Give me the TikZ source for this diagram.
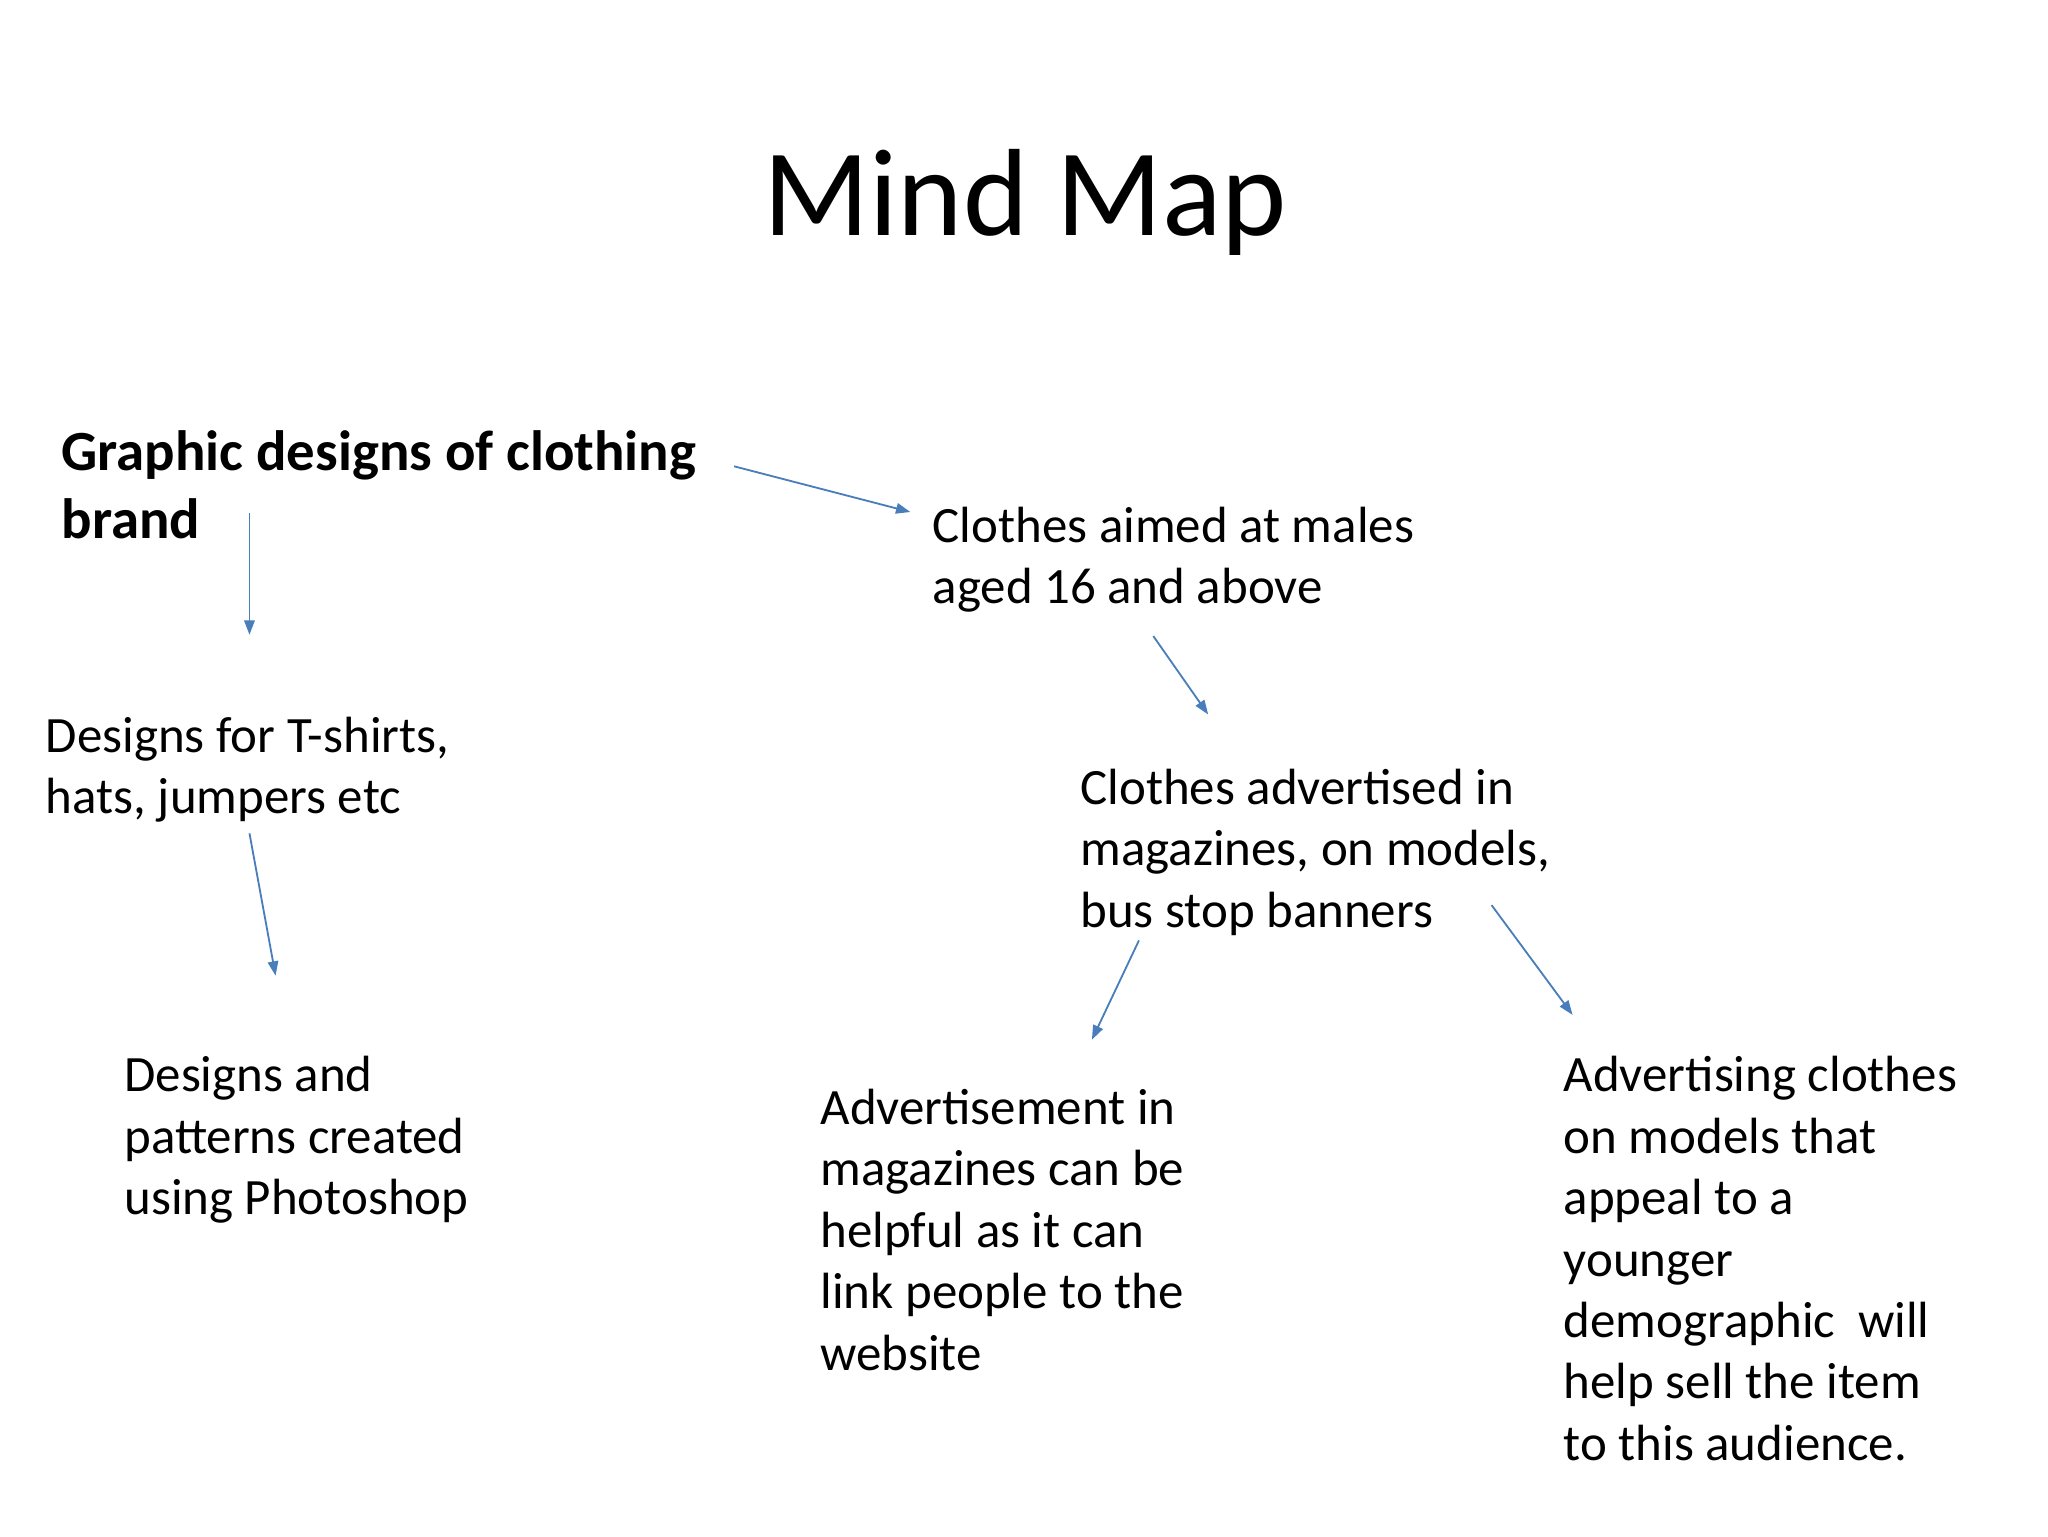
\documentclass[tikz,border=0pt]{standalone}
\usepackage{fontspec}
\setmainfont{Carlito}
\usetikzlibrary{arrows.meta}
\begin{document}
\begin{tikzpicture}[x=1pt,y=-1pt,
  txt/.style={anchor=base west,inner sep=0pt,align=left,font=\fontsize{39}{47}\selectfont},
  arr/.style={draw=arrblue,line width=1.4pt,-{Triangle[length=11pt,width=8pt]}}]
\definecolor{arrblue}{HTML}{4A7EBB}
\useasboundingbox (0,0) rectangle (1568,1176);
\fill[white] (0,0) rectangle (1568,1176);
\node[anchor=base,inner sep=0pt,font=\fontsize{95}{110}\selectfont] (title) at (785,180) {Mind Map};
\node[txt,font=\bfseries\fontsize{43.5}{52}\selectfont] (g) at (47,412) {Graphic designs of clothing\\brand};
\node[txt] (m) at (714,462) {Clothes aimed at males\\aged 16 and above};
\node[txt] (t) at (35,623) {Designs for T-shirts,\\hats, jumpers etc};
\node[txt] (a) at (827,710) {Clothes advertised in\\magazines, on models,\\bus stop banners};
\node[txt] (p) at (95,930) {Designs and\\patterns created\\using Photoshop};
\node[txt] (ad) at (628,1049) {Advertisement in\\magazines can be\\helpful as it can\\link people to the\\website};
\node[txt] (mo) at (1197,1118) {Advertising clothes\\on models that\\appeal to a\\younger\\demographic~ will\\help sell the item\\to this audience.};
\coordinate (g1) at (562,357); \coordinate (m1) at (697,392);
\coordinate (g2) at (191,393); \coordinate (t1) at (191,486);
\coordinate (m2) at (883,487); \coordinate (a1) at (925,547);
\coordinate (t2) at (191,638); \coordinate (p1) at (211,747);
\coordinate (a2) at (872,720); \coordinate (ad1) at (836,796);
\coordinate (a3) at (1142,693); \coordinate (mo1) at (1204,777);
\draw[arr] (g1) -- (m1);
\draw[arr] (g2) -- (t1);
\draw[arr] (m2) -- (a1);
\draw[arr] (t2) -- (p1);
\draw[arr] (a2) -- (ad1);
\draw[arr] (a3) -- (mo1);
\end{tikzpicture}
\end{document}
